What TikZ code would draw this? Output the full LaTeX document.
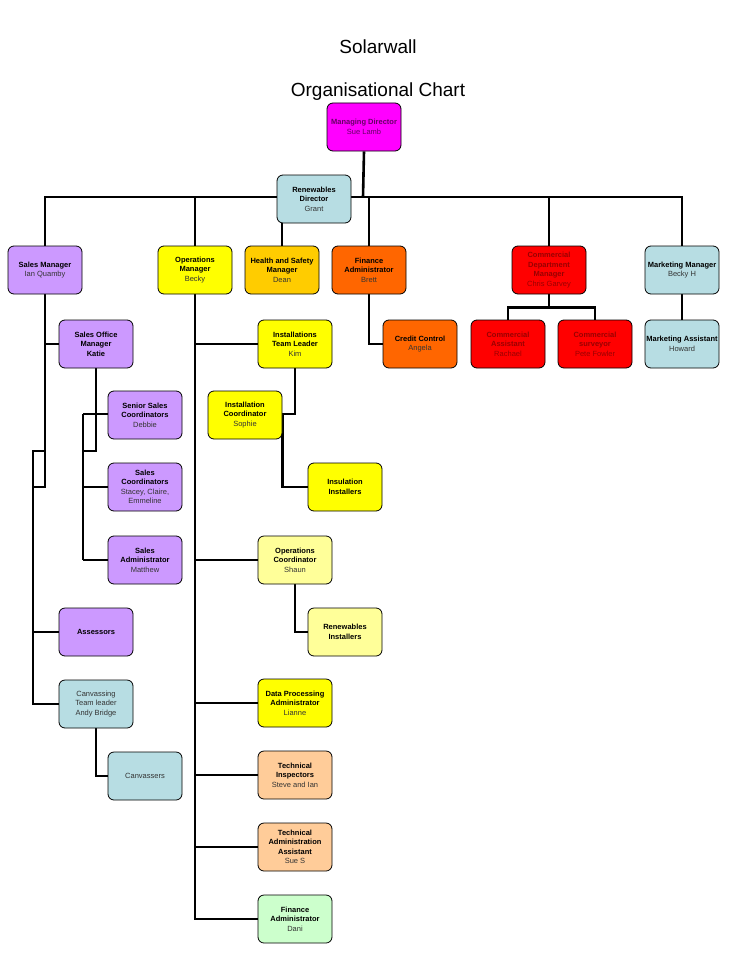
\documentclass[tikz,border=0pt]{standalone}
\usepackage{fontspec}
\setmainfont{Liberation Sans}
\usetikzlibrary{backgrounds}
\begin{document}
\begin{tikzpicture}[x=1pt,y=-1pt,
 box/.style={draw=black,line width=0.8pt,rounded corners=6pt,minimum width=74pt,minimum height=48pt,align=center,inner sep=1pt,font=\fontsize{7.5}{9.5}\selectfont},
 ln/.style={line width=2.6pt}]
\definecolor{purp}{HTML}{CC99FF}\definecolor{yel}{HTML}{FFFF00}\definecolor{lyel}{HTML}{FFFF99}
\definecolor{gold}{HTML}{FFCC00}\definecolor{orng}{HTML}{FF6600}\definecolor{rd}{HTML}{FF0000}
\definecolor{lblue}{HTML}{B7DDE3}\definecolor{mag}{HTML}{FF00FF}\definecolor{peach}{HTML}{FFCC99}
\definecolor{lgrn}{HTML}{CCFFCC}\definecolor{nm}{HTML}{333333}\definecolor{drd}{HTML}{990000}
\useasboundingbox (0,0) rectangle (728,971);
\node[font=\fontsize{19}{20}\selectfont] (t1) at (378,47) {Solarwall};
\node[font=\fontsize{19}{20}\selectfont] (t2) at (378,92) {Organisational Chart};
\coordinate (bar) at (363,197);
\node[box,fill=mag,text=violet!80!black] (md) at (364,127) {\textbf{Managing Director}\\Sue Lamb};
\node[box,fill=lblue] (rd) at (314,199) {\textbf{Renewables}\\\textbf{Director}\\\textcolor{nm}{Grant}};
\node[box,fill=purp] (sm) at (45,270) {\textbf{Sales Manager}\\\textcolor{nm}{Ian Quamby}};
\node[box,fill=yel] (om) at (195,270) {\textbf{Operations}\\\textbf{Manager}\\\textcolor{nm}{Becky}};
\node[box,fill=gold] (hs) at (282,270) {\textbf{Health and Safety}\\\textbf{Manager}\\\textcolor{nm}{Dean}};
\node[box,fill=orng] (fa) at (369,270) {\textbf{Finance}\\\textbf{Administrator}\\\textcolor{nm}{Brett}};
\node[box,fill=rd,text=drd] (cd) at (549,270) {\textbf{Commercial}\\\textbf{Department}\\\textbf{Manager}\\Chris Garvey};
\node[box,fill=lblue] (mm) at (682,270) {\textbf{Marketing Manager}\\\textcolor{nm}{Becky H}};
\node[box,fill=purp] (som) at (96,344) {\textbf{Sales Office}\\\textbf{Manager}\\\textbf{Katie}};
\node[box,fill=yel] (itl) at (295,344) {\textbf{Installations}\\\textbf{Team Leader}\\\textcolor{nm}{Kim}};
\node[box,fill=orng] (cc) at (420,344) {\textbf{Credit Control}\\\textcolor{nm}{Angela}};
\node[box,fill=rd,text=drd] (ca) at (508,344) {\textbf{Commercial}\\\textbf{Assistant}\\Rachael};
\node[box,fill=rd,text=drd] (cs) at (595,344) {\textbf{Commercial}\\\textbf{surveyor}\\Pete Fowler};
\node[box,fill=lblue] (ma) at (682,344) {\textbf{Marketing Assistant}\\\textcolor{nm}{Howard}};
\node[box,fill=purp] (ssc) at (145,415) {\textbf{Senior Sales}\\\textbf{Coordinators}\\\textcolor{nm}{Debbie}};
\node[box,fill=purp] (sc) at (145,487) {\textbf{Sales}\\\textbf{Coordinators}\\\textcolor{nm}{Stacey, Claire,}\\\textcolor{nm}{Emmeline}};
\node[box,fill=purp] (sa) at (145,560) {\textbf{Sales}\\\textbf{Administrator}\\\textcolor{nm}{Matthew}};
\node[box,fill=purp] (as) at (96,632) {\textbf{Assessors}};
\node[box,fill=lblue,text=nm] (ctl) at (96,704) {Canvassing\\Team leader\\Andy Bridge};
\node[box,fill=lblue,text=nm] (cv) at (145,776) {Canvassers};
\node[box,fill=yel] (ic) at (245,415) {\textbf{Installation}\\\textbf{Coordinator}\\\textcolor{nm}{Sophie}};
\node[box,fill=yel] (ii) at (345,487) {\textbf{Insulation}\\\textbf{Installers}};
\node[box,fill=lyel] (oc) at (295,560) {\textbf{Operations}\\\textbf{Coordinator}\\\textcolor{nm}{Shaun}};
\node[box,fill=lyel] (ri) at (345,632) {\textbf{Renewables}\\\textbf{Installers}};
\node[box,fill=yel] (dpa) at (295,703) {\textbf{Data Processing}\\\textbf{Administrator}\\\textcolor{nm}{Lianne}};
\node[box,fill=peach] (ti) at (295,775) {\textbf{Technical}\\\textbf{Inspectors}\\\textcolor{nm}{Steve and Ian}};
\node[box,fill=peach] (taa) at (295,847) {\textbf{Technical}\\\textbf{Administration}\\\textbf{Assistant}\\\textcolor{nm}{Sue S}};
\node[box,fill=lgrn] (fd) at (295,919) {\textbf{Finance}\\\textbf{Administrator}\\\textcolor{nm}{Dani}};
\begin{scope}[on background layer]
\draw[ln] (md.south) -- (bar);
\draw[ln] (sm.north) |- (mm.north |- bar) -- (mm.north);
\draw[ln] (om.north) -- (om.north |- bar);
\draw[ln] (fa.north) -- (fa.north |- bar);
\draw[ln] (cd.north) -- (cd.north |- bar);
\draw[ln] (rd.south -| hs.north) -- (hs.north);
\draw[ln] (cd.south) -- ++(0,13) -| (ca.north);
\draw[ln] (cd.south) ++(0,13) -| (cs.north);
\draw[ln] (fa.south) |- (cc.west);
\draw[ln] (mm.south) -- (ma.north);
\draw[ln] (sm.south) -- (45,487) -- (33,487) -- (33,451) -- (45,451);
\draw[ln] (33,451) |- (ctl.west);
\draw[ln] (45,344) -- (som.west);
\draw[ln] (33,632) -- (as.west);
\draw[ln] (som.south) -- (96,451) -- (83,451);
\draw[ln] (83,414) -- (83,560);
\draw[ln] (83,414) -- (ssc.west |- 83,414);
\draw[ln] (83,487) -- (sc.west);
\draw[ln] (83,560) -- (sa.west);
\draw[ln] (ctl.south) |- (cv.west);
\draw[ln] (om.south) |- (fd.west);
\draw[ln] (195,344) -- (itl.west);
\draw[ln] (195,560) -- (oc.west);
\draw[ln] (195,703) -- (dpa.west);
\draw[ln] (195,775) -- (ti.west);
\draw[ln] (195,847) -- (taa.west);
\draw[ln] (itl.south) |- (ic.east |- 0,414);
\draw[ln] (ic.east |- 0,414) |- (ii.west);
\draw[ln] (oc.south) |- (ri.west);
\end{scope}
\end{tikzpicture}
\end{document}
